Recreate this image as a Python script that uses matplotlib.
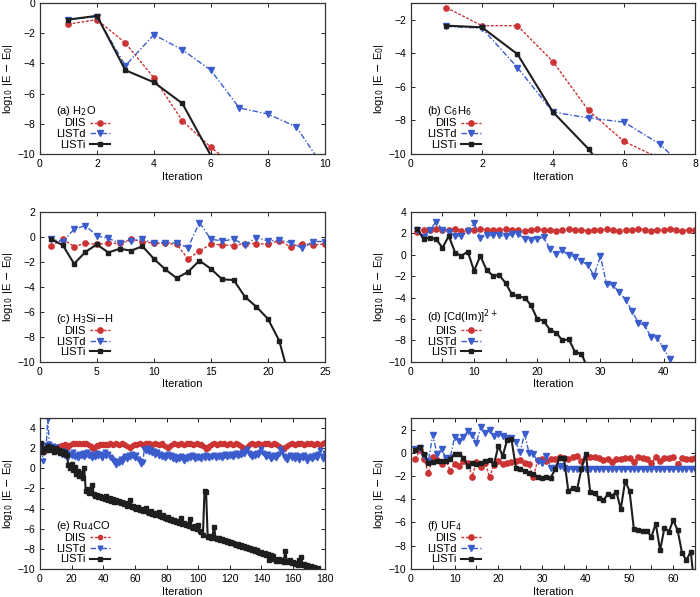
import matplotlib.pyplot as plt

plt.rcParams['font.family'] = ['Liberation Sans', 'DejaVu Sans']

# ---- (a) H2O
a_diis = [-1.4, -1.1, -2.65, -4.95, -7.8, -9.55, -11.05]
a_listd = [-1.1, -0.9, -4.15, -2.1, -3.1, -4.45, -6.95, -7.35, -8.2, -11.0]
a_listi = [-1.1, -0.85, -4.45, -5.25, -6.65, -10.1]

# ---- (b) C6H6
b_diis = [-1.28, -2.35, -2.35, -4.5, -7.4, -9.25, -10.25]
b_listd = [-2.4, -2.5, -4.85, -7.5, -7.85, -8.1, -9.4, -11.4]
b_listi = [-2.35, -2.45, -4.05, -7.5, -9.7, -12.5]

# ---- (c) H3Si-H
c_diis = [-0.72, -0.19, -0.77, -0.51, -0.6, -0.51, -0.51, -0.19, -0.37, -0.51,
          -0.5, -0.6, -1.76, -1.12, -0.59, -0.64, -0.69, -0.53, -0.53, -0.59,
          -0.29, -0.8, -0.53, -0.64, -0.56]
c_listd = [-0.2, -0.37, 0.61, 0.91, 0.08, -0.11, -0.51, -0.32, -0.19, -0.5,
           -0.45, -0.5, -0.85, 1.15, -0.19, -0.32, -0.19, -0.64, -0.05, -0.32,
           -0.27, -0.45, -0.9, -0.37, -0.37]
c_listi = [-0.2, -0.65, -2.15, -1.2, -0.6, -1.25, -0.95, -1.1, -0.75, -1.75,
           -2.6, -3.3, -2.8, -1.9, -2.55, -3.4, -3.45, -4.8, -5.6, -6.55,
           -8.3, -11.7]

# ---- (d) [Cd(Im)]2+
d_diis = [2.1, 2.35, 2.35, 2.4, 2.35, 2.35, 2.4, 2.2, 2.35, 2.35,
          2.4, 2.35, 2.35, 2.35, 2.4, 2.35, 2.35, 2.2, 2.35, 2.4,
          2.35, 2.35, 2.2, 2.35, 2.4, 2.35, 2.35, 2.2, 2.35, 2.35,
          2.4, 2.35, 2.2, 2.35, 2.35, 2.4, 2.35, 2.2, 2.35, 2.35,
          2.4, 2.35, 2.2, 2.35, 2.35]
d_listd = [2.3, 1.7, 2.3, 3.1, 2.3, 2.1, 1.75, 1.75, 2.2, 2.95,
           1.6, 1.8, 1.8, 1.8, 1.75, 1.9, 1.95, 1.5, 1.35, 1.45,
           1.65, 0.55, 0.05, 0.4, -0.05, -0.2, -0.6, -0.95, -1.95, -0.15,
           -2.75, -2.85, -3.5, -4.2, -5.25, -6.35, -6.6, -7.65, -7.8, -8.75,
           -9.75, -11.0]
d_listi = [2.45, 1.45, 1.6, 1.45, 0.65, 1.75, 0.2, -0.1, 0.3, -1.5,
           -0.1, -1.45, -1.95, -1.9, -2.65, -3.7, -3.9, -4.0, -4.7, -6.0,
           -6.15, -7.0, -7.3, -8.0, -7.9, -9.1, -9.25, -10.6]

# ---- (e) Ru4CO
e_diis = [1.6, 1.9, 1.7, 2.0, 1.8, 2.1, 1.9, 2.0, 1.8, 2.1,
          2.0, 2.2, 2.1, 2.3, 2.2, 2.4, 2.3, 2.1, 2.3, 2.4,
          2.5, 2.4, 2.5, 2.4, 2.5, 2.4, 2.5, 2.4, 2.5, 2.4,
          2.3, 2.2, 2.0, 1.9, 2.1, 2.3, 2.2, 2.4, 2.3, 2.4,
          2.3, 2.4, 2.3, 2.5, 2.4, 2.3, 2.4, 2.5, 2.4, 2.3,
          2.4, 2.5, 2.4, 2.3, 2.2, 2.1, 2.0, 2.2, 2.3, 2.4,
          2.3, 2.4, 2.5, 2.4, 2.3, 2.4, 2.5, 2.4, 2.5, 2.4,
          2.3, 2.4, 2.5, 2.4, 2.3, 2.4, 2.5, 2.3, 2.2, 2.1,
          2.0, 2.2, 2.3, 2.4, 2.5, 2.4, 2.3, 2.4, 2.5, 2.4,
          2.3, 2.4, 2.5, 2.4, 2.5, 2.4, 2.3, 2.4, 2.5, 2.4,
          2.3, 2.4, 2.2, 2.1, 1.9, 2.0, 2.2, 2.3, 2.4, 2.5,
          2.4, 2.3, 2.4, 2.5, 2.4, 2.5, 2.4, 2.3, 2.4, 2.5,
          2.4, 2.3, 2.4, 2.5, 2.4, 2.3, 2.2, 2.1, 2.0, 1.9,
          2.1, 2.3, 2.4, 2.5, 2.4, 2.3, 2.4, 2.5, 2.4, 2.3,
          2.4, 2.5, 2.4, 2.5, 2.4, 2.3, 2.4, 2.5, 2.4, 2.3,
          2.2, 2.1, 2.0, 1.9, 2.1, 2.2, 2.3, 2.4, 2.5, 2.4,
          2.3, 2.4, 2.5, 2.4, 2.5, 2.4, 2.3, 2.4, 2.5, 2.4,
          2.5, 2.4, 2.3, 2.4, 2.5, 2.4, 2.3, 2.4, 2.5, 2.6]
e_listd = [2.0, 0.7, 1.8, 2.3, 4.9, 2.4, 2.0, 2.2, 1.8, 2.1,
           1.7, 1.5, 1.6, 1.3, 1.7, 1.2, 1.5, 1.1, 1.4, 1.2,
           1.6, 1.1, 1.3, 1.0, 1.4, 1.2, 1.5, 1.1, 1.3, 1.6,
           1.2, 1.4, 1.0, 1.3, 1.1, 1.5, 1.2, 1.4, 1.0, 1.3,
           1.6, 1.2, 1.4, 1.1, 1.0, 0.8, 0.6, 0.3, 0.7, 0.5,
           0.9, 0.6, 1.0, 1.2, 0.9, 1.3, 1.1, 1.4, 1.2, 1.0,
           1.3, 0.9, 0.7, 0.4, 0.6, 1.9, 1.7, 2.0, 1.6, 1.8,
           1.5, 1.7, 1.3, 1.6, 1.2, 1.4, 1.1, 1.3, 1.0, 1.2,
           1.4, 1.1, 1.3, 0.9, 1.2, 0.8, 1.1, 0.9, 1.2, 1.0,
           0.7, 1.1, 0.9, 1.2, 1.0, 1.3, 1.1, 0.9, 1.2, 1.0,
           1.1, 0.9, 1.2, 1.0, 1.3, 1.1, 1.0, 1.2, 1.1, 1.3,
           1.0, 1.2, 1.1, 1.3, 1.0, 1.2, 1.4, 1.1, 1.3, 1.2,
           1.4, 1.1, 1.3, 1.5, 1.2, 1.4, 1.3, 1.6, 1.4, 1.7,
           1.9, 1.5, 1.3, 1.1, 1.4, 1.2, 1.5, 1.3, 1.6, 1.9,
           1.5, 1.3, 1.1, 1.4, 1.2, 0.9, 1.1, 1.3, 1.0, 1.2,
           1.4, 1.9, 1.6, 1.2, 1.0, 0.8, 1.1, 1.3, 1.0, 1.2,
           0.9, 1.3, 1.1, 0.8, 1.2, 1.0, 1.3, 1.1, 0.7, 1.0,
           1.2, 0.9, 1.1, 1.3, 1.0, 1.4, 1.8, 1.2, 0.9, 1.5]
e_listi = [2.5, 1.6, 1.9, 2.0, 2.2, 1.8, 2.1, 1.9, 1.6, 2.0,
           1.7, 1.8, 1.5, 1.7, 1.4, 1.6, 1.3, 0.3, 0.0, 0.4,
           -0.2, 0.1, -0.6, -0.3, -0.8, -0.5, -1.0, 0.0, -2.3, -2.1,
           -2.5, -2.2, -1.7, -2.6, -2.8, -2.7, -2.9, -2.8, -3.0, -2.9,
           -3.1, -2.8, -3.2, -3.0, -3.3, -3.1, -3.4, -3.2, -3.4, -3.3,
           -3.5, -3.4, -3.6, -3.5, -3.7, -3.6, -3.2, -3.8, -3.7, -3.9,
           -4.0, -3.8, -4.1, -4.0, -4.2, -4.1, -3.9, -4.3, -4.4, -4.2,
           -4.5, -4.4, -4.6, -4.5, -4.3, -4.7, -4.8, -4.6, -4.9, -5.0,
           -4.8, -5.1, -5.0, -5.2, -5.1, -5.3, -5.2, -5.4, -4.9, -5.5,
           -5.4, -5.6, -5.5, -5.7, -5.0, -5.8, -5.9, -5.7, -6.0, -5.6,
           -6.2, -6.3, -6.6, -2.3, -2.4, -6.8, -6.7, -6.9, -6.8, -5.8,
           -6.9, -7.0, -6.9, -7.1, -7.0, -7.2, -7.1, -7.3, -7.2, -7.4,
           -7.3, -7.4, -7.5, -7.6, -7.5, -7.7, -7.6, -7.8, -7.7, -7.9,
           -7.8, -8.0, -7.9, -8.1, -8.0, -8.2, -8.1, -8.3, -8.4, -8.3,
           -8.5, -8.4, -8.6, -8.5, -9.1, -8.6, -8.7, -9.0, -9.2, -9.1,
           -9.0, -9.2, -9.1, -9.3, -8.2, -9.2, -9.3, -9.1, -9.4, -9.3,
           -9.5, -9.4, -9.6, -9.1, -8.8, -9.6, -9.5, -9.7, -9.6, -9.8,
           -9.7, -9.9, -9.8, -9.9, -10.0, -9.95, -10.3]

# ---- (f) UF4
f_diis = [-0.55, 0.2, -0.55, -1.75, -0.35, -0.6, -0.95, -0.6, -1.55, -0.95,
          -1.1, -0.7, -0.9, -2.05, -0.8, -1.2, -0.9, -2.1, -1.05, -0.75,
          -1.0, -0.85, -0.8, -0.7, -0.65, -0.85, -1.0, -2.1, -0.65, -0.5,
          -0.7, -0.5, -0.5, -0.4, -0.45, -0.55, -0.35, -0.3, -0.75, -0.4,
          -0.35, -0.4, -0.45, -0.6, -0.55, -0.8, -0.55, -0.5, -0.45, -0.45,
          -0.8, -0.35, -0.45, -0.5, -0.9, -0.4, -0.75, -0.45, -0.45, -0.35,
          -1.0, -0.45, -0.55, -0.55, -0.45]
f_listd = [0.3, 0.45, -0.27, -0.7, 1.54, -0.13, 0.3, -0.42, -0.42, 1.36,
           1.02, 1.36, 1.88, 1.54, 0.88, 2.25, 1.7, 1.95, 1.45, 1.6,
           1.4, 1.3, 1.25, 0.9, 0.1, 1.65, 0.0, -0.13, -0.7, -0.85,
           -0.27, -1.28, -1.28, -1.13, -1.28, -1.42, -1.42, -1.42, -1.42, -1.42,
           -1.42, -1.42, -1.42, -1.42, -1.42, -1.42, -1.42, -1.42, -1.42, -1.42,
           -1.42, -1.42, -1.42, -1.42, -1.42, -1.42, -1.42, -1.42, -1.42, -1.42,
           -1.42, -1.42, -1.42, -1.42, -1.42]
f_listi = [0.27, 0.5, -0.13, -0.85, -0.8, -0.7, -0.7, -0.75, -0.55, -0.07,
           -0.07, -0.42, -1.13, -0.85, -0.93, -0.85, -0.7, -0.64, -1.0, 0.59,
           -0.27, 1.08, 1.16, -1.28, -1.42, -1.56, -1.7, -1.79, -2.08, -2.13,
           -2.08, -2.13, -1.42, -0.42, -0.42, -3.28, -3.05, -3.14, -1.4, -0.07,
           -3.34, -3.5, -3.9, -4.1, -3.57, -3.7, -3.37, -4.86, -2.42, -3.28,
           -6.58, -6.67, -6.74, -6.74, -7.24, -6.1, -8.39, -6.44, -6.78, -5.8,
           -6.67, -8.6, -9.25, -8.5, -12.0]

panels = [
    ('(a) H$_2$O', a_diis, a_listd, a_listi, (0, 10), (-10, 0), range(0, 11, 2), None, range(-10, 1, 2)),
    ('(b) C$_6$H$_6$', b_diis, b_listd, b_listi, (0, 8), (-10, -1), range(0, 9, 2), None, range(-10, -1, 2)),
    ('(c) H$_3$Si$-$H', c_diis, c_listd, c_listi, (0, 25), (-10, 2), range(0, 26, 5), None, range(-10, 3, 2)),
    ('(d) [Cd(Im)]$^{2+}$', d_diis, d_listd, d_listi, (0, 45), (-10, 4), range(0, 41, 10), range(5, 46, 10), range(-10, 5, 2)),
    ('(e) Ru$_4$CO', e_diis, e_listd, e_listi, (0, 180), (-10, 5), range(0, 181, 20), None, range(-10, 5, 2)),
    ('(f) UF$_4$', f_diis, f_listd, f_listi, (0, 65), (-10, 3), range(0, 61, 10), range(5, 66, 10), range(-10, 3, 2)),
]

positions = [
    [0.057, 0.742, 0.407, 0.253], [0.587, 0.742, 0.406, 0.253],
    [0.057, 0.394, 0.407, 0.251], [0.587, 0.394, 0.406, 0.251],
    [0.057, 0.047, 0.407, 0.253], [0.587, 0.047, 0.406, 0.253],
]

red = '#cc3333'
blue = '#3a5ccc'
black = '#1e1e1e'

fig = plt.figure(figsize=(7, 5.97), dpi=100)

for i, (title, diis, listd, listi, xlim, ylim, xt, xminor, yt) in enumerate(panels):
    ax = fig.add_axes(positions[i])
    ms = 3.0 if i == 4 else 3.8
    ax.plot(range(1, len(diis) + 1), diis, color=red, ls=(0, (2, 1.2)), lw=1.0,
            marker='o', ms=ms, label='DIIS')
    ax.plot(range(1, len(listd) + 1), listd, color=blue, ls=(0, (4, 1.5, 1, 1.5)), lw=1.0,
            marker='v', ms=ms + 0.4, label='LISTd')
    ax.plot(range(1, len(listi) + 1), listi, color=black, ls='-', lw=1.5,
            marker='s', ms=ms - 0.3, label='LISTi')
    ax.set_xlim(*xlim)
    ax.set_ylim(*ylim)
    ax.set_xticks(list(xt))
    if xminor is not None:
        ax.set_xticks(list(xminor), minor=True)
    ax.set_yticks(list(yt))
    ax.tick_params(direction='in', top=True, right=True, labelsize=7.5, length=3, width=0.6)
    ax.tick_params(which='minor', direction='in', top=True, length=3, width=0.6)
    for s in ax.spines.values():
        s.set_linewidth(0.9)
        s.set_color('#333333')
    ax.set_xlabel('Iteration', fontsize=8, labelpad=2)
    ax.set_ylabel('log$_{10}$ |E $-$ E$_0$|', fontsize=8, labelpad=2)
    leg = ax.legend(loc='lower left', bbox_to_anchor=(0.042, 0.0), frameon=False,
                    markerfirst=False, fontsize=8,
                    title=title, title_fontsize=8, alignment='left',
                    handlelength=1.8, labelspacing=0.05, borderaxespad=0.1,
                    handletextpad=0.4, borderpad=0.3)

plt.savefig('out.png', dpi=100)
